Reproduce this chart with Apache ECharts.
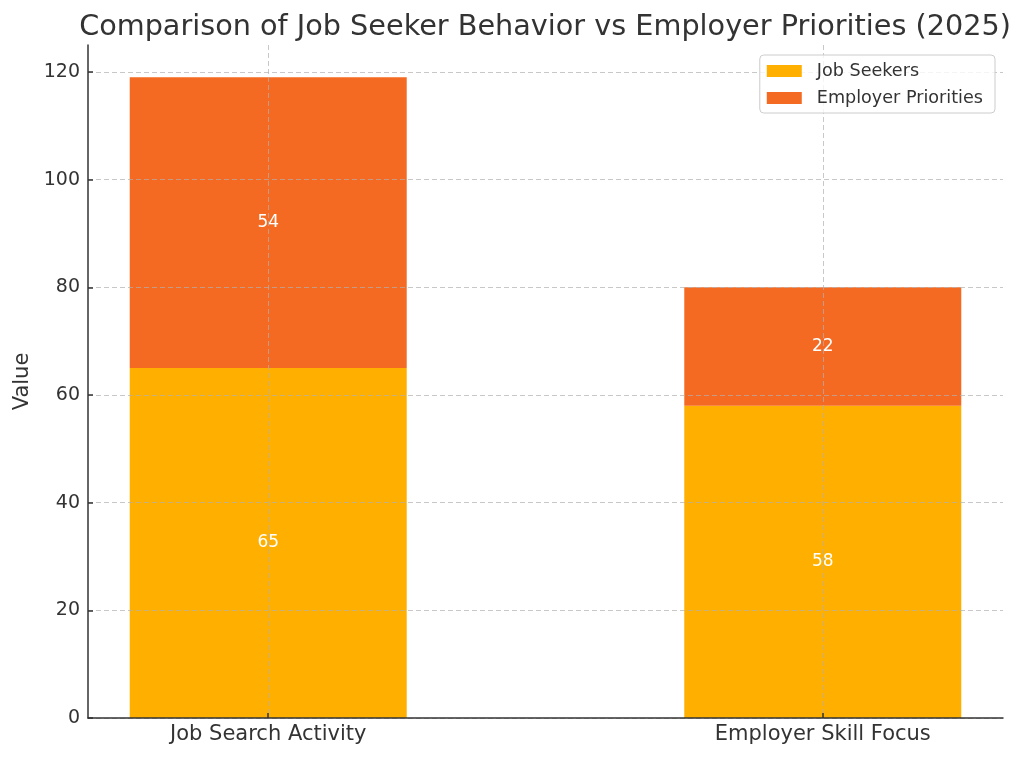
<!DOCTYPE html>
<html>
<head>
<meta charset="utf-8">
<script src="https://cdn.jsdelivr.net/npm/echarts@6/dist/echarts.min.js"></script>
<style>
  html, body { margin: 0; padding: 0; background: #fff; }
  #main { width: 1024px; height: 759px; }
</style>
</head>
<body>
<div id="main"></div>
<script>
  // data
  const categories = ['Job Search Activity', 'Employer Skill Focus'];
  const jobSeekers = [65, 58];
  const employerPriorities = [54, 22];
  const yTicks = [0, 20, 40, 60, 80, 100, 120];
  const xPos = [0, 1];

  const myChart = echarts.init(document.getElementById('main'));
  const font = 'DejaVu Sans';
  const gridLine = {
    show: true,
    lineStyle: { color: 'rgba(176,176,176,0.7)', width: 1, type: [5, 3] }
  };
  // value first so the stack runs on y
  const toPairs = vals => vals.map((v, i) => [v, xPos[i]]);
  const barLabel = {
    show: true, position: 'inside', color: '#fff', fontFamily: font, fontSize: 17,
    formatter: p => p.value[0]
  };

  const option = {
    animation: false,
    textStyle: { fontFamily: font },
    title: {
      text: 'Comparison of Job Seeker Behavior vs Employer Priorities (2025)',
      left: 540, textAlign: 'center', top: 8,
      textStyle: { fontFamily: font, fontSize: 28.7, fontWeight: 'normal', color: '#333' }
    },
    legend: {
      orient: 'vertical',
      right: 29, top: 55,
      padding: [7, 12, 6, 7],
      icon: 'rect',
      itemWidth: 35, itemHeight: 12, itemGap: 9,
      borderColor: '#cccccc', borderWidth: 1, borderRadius: 4,
      backgroundColor: 'rgba(255,255,255,0.8)',
      textStyle: { fontFamily: font, fontSize: 17.6, color: '#333', padding: [0, 0, 0, 10] },
      data: ['Job Seekers', 'Employer Priorities']
    },
    grid: { left: 88, right: 21, top: 45, bottom: 41 },
    xAxis: {
      type: 'value', min: -0.325, max: 1.325, z: 3,
      axisLine: { show: true, onZero: false, lineStyle: { color: '#333', width: 1.5 } },
      axisTick: { show: true, inside: true, length: 5, customValues: xPos, lineStyle: { color: '#333', width: 1.5 } },
      axisLabel: {
        customValues: xPos, margin: 6,
        fontFamily: font, fontSize: 21, color: '#333',
        formatter: v => categories[Math.round(v)]
      },
      splitLine: gridLine
    },
    yAxis: {
      type: 'value', min: 0, max: 125, z: 3,
      name: 'Value', nameLocation: 'middle', nameGap: 55,
      nameTextStyle: { fontFamily: font, fontSize: 21, color: '#333' },
      axisLine: { show: true, onZero: false, lineStyle: { color: '#333', width: 1.5 } },
      axisTick: { show: true, inside: true, length: 5, customValues: yTicks, lineStyle: { color: '#333', width: 1.5 } },
      axisLabel: { customValues: yTicks, margin: 8, fontFamily: font, fontSize: 19, color: '#333' },
      splitLine: gridLine
    },
    series: [
      {
        name: 'Job Seekers', type: 'bar', stack: 'total', barWidth: 277,
        encode: { x: 1, y: 0 },
        itemStyle: { color: '#FFAF00' },
        label: barLabel,
        data: toPairs(jobSeekers)
      },
      {
        name: 'Employer Priorities', type: 'bar', stack: 'total', barWidth: 277,
        encode: { x: 1, y: 0 },
        itemStyle: { color: '#F46A22' },
        label: barLabel,
        data: toPairs(employerPriorities)
      }
    ]
  };
  myChart.setOption(option);
</script>
</body>
</html>
